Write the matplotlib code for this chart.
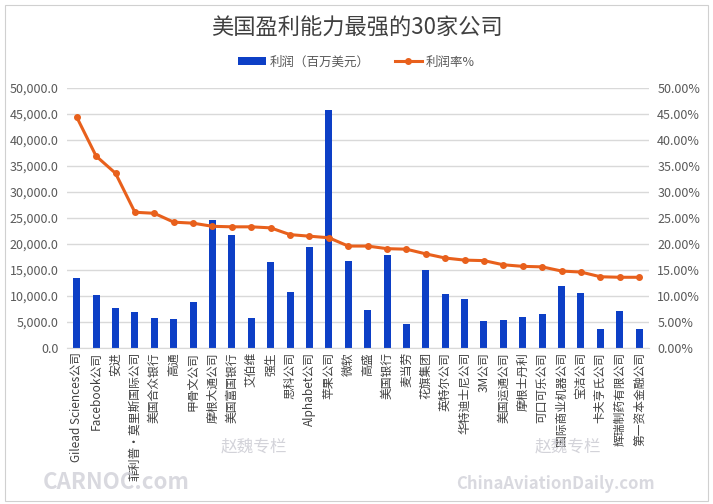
import matplotlib
matplotlib.use("Agg")
import matplotlib.pyplot as plt
from matplotlib.ticker import FuncFormatter
from matplotlib.patches import Rectangle
import numpy as np

plt.rcParams['font.family'] = ['Noto Sans CJK SC', 'DejaVu Sans']

companies = [
    "Gilead Sciences公司", "Facebook公司", "安进", "菲利普·莫里斯国际公司",
    "美国合众银行", "高通", "甲骨文公司", "摩根大通公司", "美国富国银行",
    "艾伯维", "强生", "思科公司", "Alphabet公司", "苹果公司", "微软", "高盛",
    "美国银行", "麦当劳", "花旗集团", "英特尔公司", "华特迪士尼公司", "3M公司",
    "美国运通公司", "摩根士丹利", "可口可乐公司", "国际商业机器公司", "宝洁公司",
    "卡夫亨氏公司", "辉瑞制药有限公司", "第一资本金融公司",
]
profit = [
    13500, 10100, 7600, 6900, 5800, 5600, 8900, 24700, 21800, 5800,
    16500, 10700, 19400, 45700, 16800, 7400, 17900, 4700, 15000, 10300,
    9400, 5100, 5300, 5900, 6500, 11900, 10500, 3600, 7200, 3700,
]
margin = [
    44.4, 36.9, 33.6, 26.1, 25.9, 24.2, 24.0, 23.4, 23.3, 23.3,
    23.1, 21.8, 21.5, 21.2, 19.6, 19.6, 19.1, 19.0, 18.1, 17.3,
    16.9, 16.8, 16.0, 15.7, 15.6, 14.8, 14.6, 13.7, 13.6, 13.6,
]

bar_color = "#0d3fc6"
line_color = "#e8601c"
text_color = "#595959"

fig = plt.figure(figsize=(7.13, 5.04), dpi=100)
fig.patches.append(Rectangle((0.007, 0.006), 0.986, 0.985, transform=fig.transFigure,
                             fill=False, edgecolor="#d0d0d0", linewidth=0.8))

ax = fig.add_axes([0.094, 0.3095, 0.816, 0.516])
x = np.arange(len(companies))
bars = ax.bar(x, profit, width=0.36, color=bar_color, label="利润（百万美元）", zorder=2)
ax.set_ylim(0, 50000)
ax.set_yticks(np.arange(0, 50001, 5000))
ax.yaxis.set_major_formatter(FuncFormatter(lambda v, p: f"{v:,.1f}"))
ax.set_xlim(-0.5, len(companies) - 0.5)
ax.set_xticks(x)
ax.set_xticklabels(companies, rotation=90, fontsize=8.5, color="#404040")
ax.grid(axis="y", color="#d9d9d9", linewidth=1, zorder=0)
ax.set_axisbelow(True)
for s in ["top", "right", "left"]:
    ax.spines[s].set_visible(False)
ax.spines["bottom"].set_color("#d9d9d9")
ax.tick_params(length=0, pad=3)
ax.tick_params(axis="y", labelsize=9, labelcolor=text_color, pad=6)

ax2 = ax.twinx()
line, = ax2.plot(x, margin, color=line_color, linewidth=2.2, marker="o", markersize=4,
                 label="利润率%", zorder=3)
ax2.set_ylim(0, 50)
ax2.set_yticks(np.arange(0, 50.1, 5))
ax2.yaxis.set_major_formatter(FuncFormatter(lambda v, p: f"{v:.2f}%"))
for s in ["top", "right", "left", "bottom"]:
    ax2.spines[s].set_visible(False)
ax2.tick_params(length=0, labelsize=9, labelcolor=text_color, pad=6)

fig.text(0.5, 0.945, "美国盈利能力最强的30家公司", ha="center", va="center",
         fontsize=16, color="#404040")
fig.legend(handles=[bars, line], loc="center", bbox_to_anchor=(0.5, 0.877),
           ncol=2, frameon=False, fontsize=9, labelcolor=text_color,
           handlelength=2.2, columnspacing=2.0, handletextpad=0.3)

# watermarks
fig.text(0.31, 0.105, "赵魏专栏", fontsize=12, color="#c8c8d0", style="italic", alpha=0.8)
fig.text(0.75, 0.105, "赵魏专栏", fontsize=12, color="#c8c8d0", style="italic", alpha=0.8)
fig.text(0.06, 0.03, "CARNOC.com", fontsize=16, color="#d0d0d8", weight="bold", alpha=0.8)
fig.text(0.64, 0.03, "ChinaAviationDaily.com", fontsize=12, color="#d0d0d8", weight="bold", alpha=0.8)

fig.savefig("out.png", dpi=100)
